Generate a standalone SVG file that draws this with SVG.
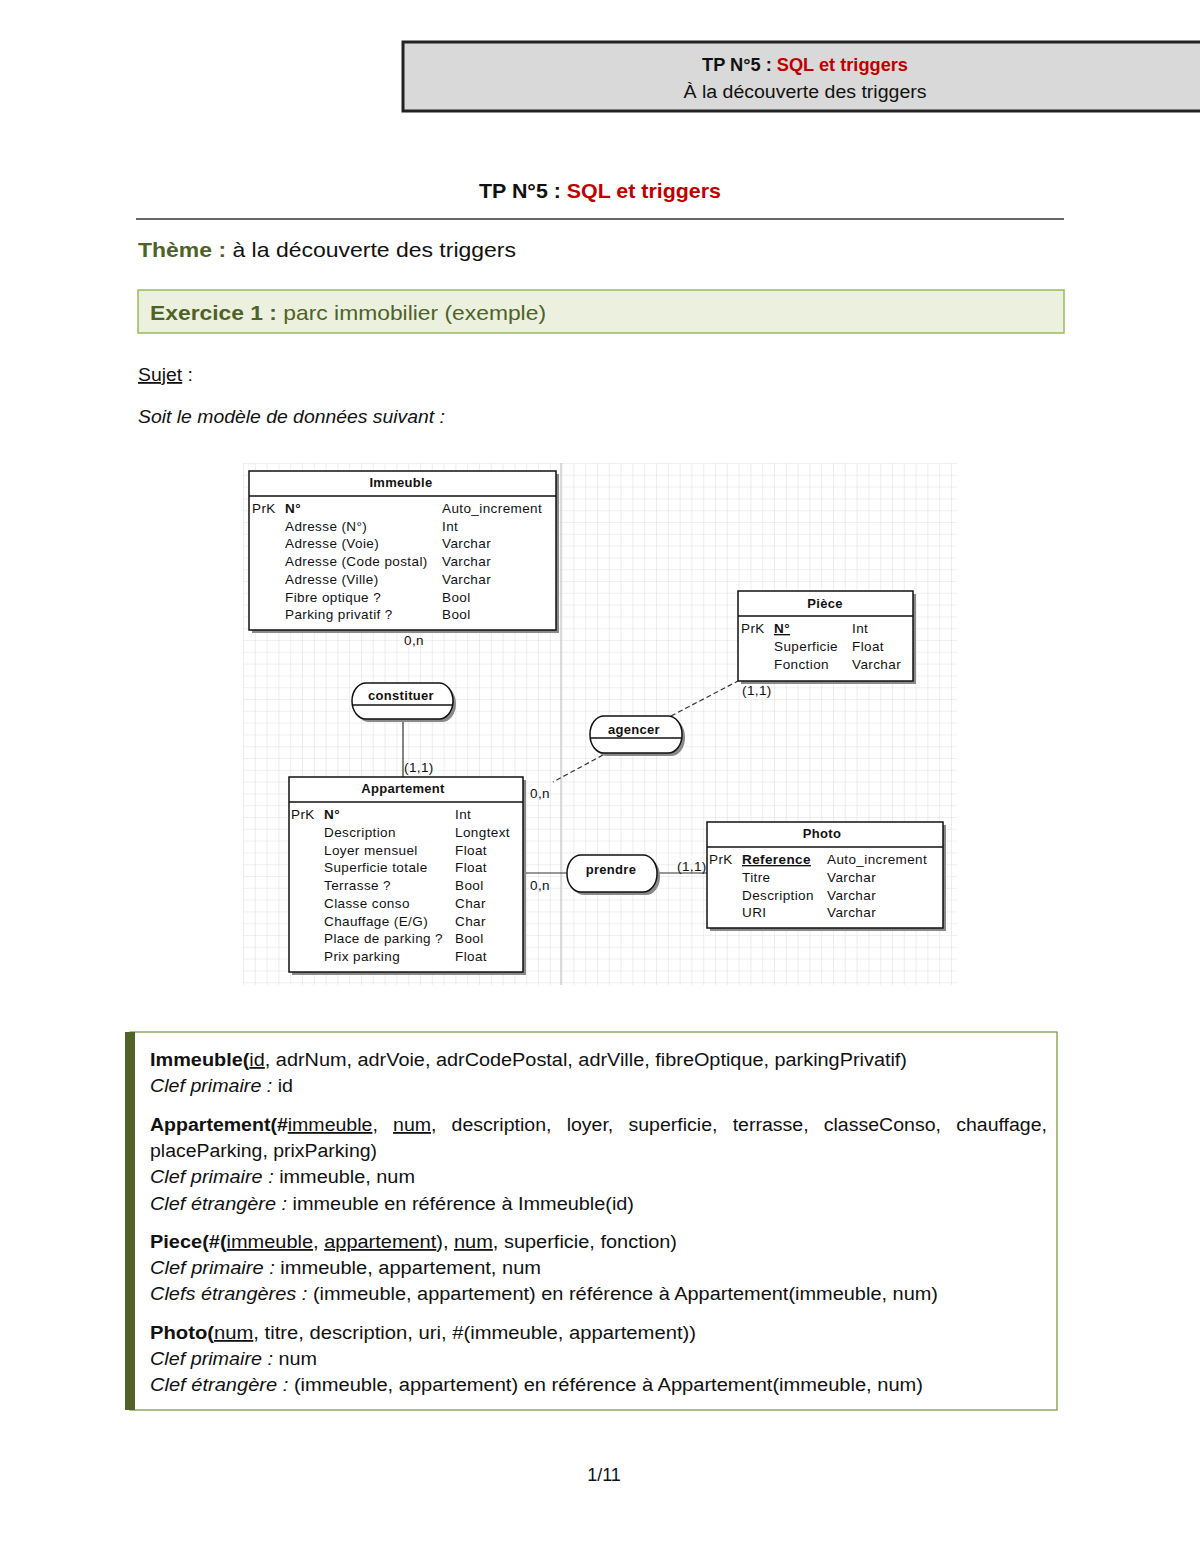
<svg xmlns="http://www.w3.org/2000/svg" width="1200" height="1553" viewBox="0 0 1200 1553">
<style>
.doc{font-family:"Liberation Sans",Arial,sans-serif;fill:#111}
.b{font-weight:bold}
.i{font-style:italic}
.u{text-decoration:underline}
.red{fill:#c00000}
.grn{fill:#4f6228}
.dg{font-family:"Liberation Sans",Arial,sans-serif;font-size:13.5px;letter-spacing:0.4px;fill:#111}
.dt{font-family:"Liberation Sans",Arial,sans-serif;font-size:13px;letter-spacing:0.3px;font-weight:bold;fill:#111}
.box{fill:#fff;stroke:#111;stroke-width:1.5}
.shadow{fill:#8a8a8a}
.sep{stroke:#111;stroke-width:1.5}
.conn{stroke:#333;stroke-width:1.2;fill:none}
.dash{stroke-dasharray:5,3}
</style>
<defs>
<pattern id="grid" x="243" y="463" width="11.8" height="11.8" patternUnits="userSpaceOnUse">
<path d="M0 0H11.8M0 0V11.8" stroke="#e2e2e2" stroke-width="1.2" fill="none"/>
</pattern>
</defs>
<rect width="1200" height="1553" fill="#fff"/>

<g id="header">
<rect x="403" y="42" width="802" height="69" fill="#d9d9d9" stroke="#222" stroke-width="3"/>
<text class="doc b" x="805" y="71" font-size="18" text-anchor="middle" textLength="206" lengthAdjust="spacingAndGlyphs">TP N°5 : <tspan class="red">SQL et triggers</tspan></text>
<text class="doc" x="805" y="98" font-size="18" text-anchor="middle" textLength="243" lengthAdjust="spacingAndGlyphs">À la découverte des triggers</text>
</g>

<g id="title">
<text class="doc b" x="600" y="198" font-size="21" text-anchor="middle" textLength="242" lengthAdjust="spacingAndGlyphs">TP N°5 : <tspan class="red">SQL et triggers</tspan></text>
<line x1="136" y1="219" x2="1064" y2="219" stroke="#333" stroke-width="1.5"/>
<text class="doc" x="138" y="257" font-size="21" textLength="378" lengthAdjust="spacingAndGlyphs"><tspan class="b grn">Thème :</tspan> à la découverte des triggers</text>
</g>

<g id="exercice">
<rect x="138" y="290" width="926" height="43" fill="#ebf1de" stroke="#9bbb59" stroke-width="1.5"/>
<text class="doc grn" x="150" y="320" font-size="21" textLength="396" lengthAdjust="spacingAndGlyphs"><tspan class="b">Exercice 1 :</tspan> parc immobilier (exemple)</text>
</g>

<g id="sujet">
<text class="doc" x="138" y="381" font-size="18" textLength="55" lengthAdjust="spacingAndGlyphs"><tspan class="u">Sujet</tspan> :</text>
<text class="doc i" x="138" y="423" font-size="18" textLength="307" lengthAdjust="spacingAndGlyphs">Soit le modèle de données suivant :</text>
</g>

<rect x="243" y="463" width="714" height="522" fill="url(#grid)"/>
<line x1="561" y1="463" x2="561" y2="985" stroke="#c4c4c4" stroke-width="1.2"/>

<g id="connectors">
<line class="conn" x1="403" y1="720" x2="403" y2="777"/>
<line class="conn dash" x1="671" y1="716" x2="738" y2="681"/>
<line class="conn dash" x1="603" y1="755" x2="553" y2="782"/>
<line class="conn" x1="523" y1="873" x2="567" y2="873"/>
<line class="conn" x1="657" y1="873" x2="707" y2="873"/>
<text class="dg" x="404" y="645">0,n</text>
<text class="dg" x="404" y="772">(1,1)</text>
<text class="dg" x="530" y="798">0,n</text>
<text class="dg" x="742" y="695">(1,1)</text>
<text class="dg" x="530" y="890">0,n</text>
<text class="dg" x="677" y="871">(1,1)</text>
</g>

<g id="immeuble">
<rect class="shadow" x="252" y="474" width="307" height="159"/>
<rect class="box" x="249" y="471" width="307" height="159"/>
<line class="sep" x1="249" y1="496" x2="556" y2="496"/>
<text class="dt" x="401" y="487" text-anchor="middle">Immeuble</text>
<text class="dg" x="252" y="513">PrK</text>
<text class="dg b" x="285" y="513">N°</text>
<text class="dg" x="285" y="531">Adresse (N°)</text>
<text class="dg" x="285" y="548">Adresse (Voie)</text>
<text class="dg" x="285" y="566">Adresse (Code postal)</text>
<text class="dg" x="285" y="584">Adresse (Ville)</text>
<text class="dg" x="285" y="602">Fibre optique ?</text>
<text class="dg" x="285" y="619">Parking privatif ?</text>
<text class="dg" x="442" y="513">Auto_increment</text>
<text class="dg" x="442" y="531">Int</text>
<text class="dg" x="442" y="548">Varchar</text>
<text class="dg" x="442" y="566">Varchar</text>
<text class="dg" x="442" y="584">Varchar</text>
<text class="dg" x="442" y="602">Bool</text>
<text class="dg" x="442" y="619">Bool</text>
</g>

<g id="constituer">
<rect class="shadow" x="355" y="686" width="101" height="36" rx="14" ry="18"/>
<rect class="box" x="352" y="683" width="101" height="36" rx="14" ry="18"/>
<line class="sep" x1="353" y1="705" x2="452" y2="705"/>
<text class="dt" x="401" y="700" text-anchor="middle">constituer</text>
</g>

<g id="agencer">
<rect class="shadow" x="593" y="719" width="92" height="37" rx="14" ry="18"/>
<rect class="box" x="590" y="716" width="92" height="37" rx="14" ry="18"/>
<line class="sep" x1="591" y1="738" x2="681" y2="738"/>
<text class="dt" x="634" y="734" text-anchor="middle">agencer</text>
</g>

<g id="prendre">
<rect class="shadow" x="570" y="858" width="90" height="37" rx="14" ry="18"/>
<rect class="box" x="567" y="855" width="90" height="37" rx="14" ry="18"/>
<text class="dt" x="611" y="874" text-anchor="middle">prendre</text>
</g>

<g id="piece">
<rect class="shadow" x="741" y="594" width="175" height="90"/>
<rect class="box" x="738" y="591" width="175" height="90"/>
<line class="sep" x1="738" y1="616" x2="913" y2="616"/>
<text class="dt" x="825" y="608" text-anchor="middle">Pièce</text>
<text class="dg" x="741" y="633">PrK</text>
<text class="dg b u" x="774" y="633">N°</text>
<text class="dg" x="774" y="651">Superficie</text>
<text class="dg" x="774" y="669">Fonction</text>
<text class="dg" x="852" y="633">Int</text>
<text class="dg" x="852" y="651">Float</text>
<text class="dg" x="852" y="669">Varchar</text>
</g>

<g id="appartement">
<rect class="shadow" x="292" y="780" width="234" height="195"/>
<rect class="box" x="289" y="777" width="234" height="195"/>
<line class="sep" x1="289" y1="802" x2="523" y2="802"/>
<text class="dt" x="403" y="793" text-anchor="middle">Appartement</text>
<text class="dg" x="291" y="819">PrK</text>
<text class="dg b" x="324" y="819">N°</text>
<text class="dg" x="324" y="837">Description</text>
<text class="dg" x="324" y="855">Loyer mensuel</text>
<text class="dg" x="324" y="872">Superficie totale</text>
<text class="dg" x="324" y="890">Terrasse ?</text>
<text class="dg" x="324" y="908">Classe conso</text>
<text class="dg" x="324" y="926">Chauffage (E/G)</text>
<text class="dg" x="324" y="943">Place de parking ?</text>
<text class="dg" x="324" y="961">Prix parking</text>
<text class="dg" x="455" y="819">Int</text>
<text class="dg" x="455" y="837">Longtext</text>
<text class="dg" x="455" y="855">Float</text>
<text class="dg" x="455" y="872">Float</text>
<text class="dg" x="455" y="890">Bool</text>
<text class="dg" x="455" y="908">Char</text>
<text class="dg" x="455" y="926">Char</text>
<text class="dg" x="455" y="943">Bool</text>
<text class="dg" x="455" y="961">Float</text>
</g>

<g id="photo">
<rect class="shadow" x="710" y="825" width="236" height="106"/>
<rect class="box" x="707" y="822" width="236" height="106"/>
<line class="sep" x1="707" y1="847" x2="943" y2="847"/>
<text class="dt" x="822" y="838" text-anchor="middle">Photo</text>
<text class="dg" x="709" y="864">PrK</text>
<text class="dg b u" x="742" y="864">Reference</text>
<text class="dg" x="742" y="882">Titre</text>
<text class="dg" x="742" y="900">Description</text>
<text class="dg" x="742" y="917">URI</text>
<text class="dg" x="827" y="864">Auto_increment</text>
<text class="dg" x="827" y="882">Varchar</text>
<text class="dg" x="827" y="900">Varchar</text>
<text class="dg" x="827" y="917">Varchar</text>
</g>

<g id="schema">
<rect x="130" y="1032" width="927" height="378" fill="#fff" stroke="#76923c" stroke-width="1.2"/>
<rect x="125" y="1032" width="10" height="378" fill="#4f6228"/>
<text class="doc" x="150" y="1066" font-size="18" textLength="757" lengthAdjust="spacingAndGlyphs"><tspan class="b">Immeuble(</tspan><tspan class="u">id</tspan>, adrNum, adrVoie, adrCodePostal, adrVille, fibreOptique, parkingPrivatif)</text>
<text class="doc" x="150" y="1092" font-size="18" textLength="143" lengthAdjust="spacingAndGlyphs"><tspan class="i">Clef primaire :</tspan> id</text>
<text class="doc" x="150" y="1131" font-size="18" word-spacing="9" textLength="897" lengthAdjust="spacingAndGlyphs"><tspan class="b">Appartement(#</tspan><tspan class="u">immeuble</tspan>, <tspan class="u">num</tspan>, description, loyer, superficie, terrasse, classeConso, chauffage,</text>
<text class="doc" x="150" y="1157" font-size="18" textLength="227" lengthAdjust="spacingAndGlyphs">placeParking, prixParking)</text>
<text class="doc" x="150" y="1183" font-size="18" textLength="265" lengthAdjust="spacingAndGlyphs"><tspan class="i">Clef primaire :</tspan> immeuble, num</text>
<text class="doc" x="150" y="1210" font-size="18" textLength="484" lengthAdjust="spacingAndGlyphs"><tspan class="i">Clef étrangère :</tspan> immeuble en référence à Immeuble(id)</text>
<text class="doc" x="150" y="1248" font-size="18" textLength="527" lengthAdjust="spacingAndGlyphs"><tspan class="b">Piece(#(</tspan><tspan class="u">immeuble</tspan>, <tspan class="u">appartement</tspan>), <tspan class="u">num</tspan>, superficie, fonction)</text>
<text class="doc" x="150" y="1274" font-size="18" textLength="391" lengthAdjust="spacingAndGlyphs"><tspan class="i">Clef primaire :</tspan> immeuble, appartement, num</text>
<text class="doc" x="150" y="1300" font-size="18" textLength="788" lengthAdjust="spacingAndGlyphs"><tspan class="i">Clefs étrangères :</tspan> (immeuble, appartement) en référence à Appartement(immeuble, num)</text>
<text class="doc" x="150" y="1339" font-size="18" textLength="546" lengthAdjust="spacingAndGlyphs"><tspan class="b">Photo(</tspan><tspan class="u">num</tspan>, titre, description, uri, #(immeuble, appartement))</text>
<text class="doc" x="150" y="1365" font-size="18" textLength="167" lengthAdjust="spacingAndGlyphs"><tspan class="i">Clef primaire :</tspan> num</text>
<text class="doc" x="150" y="1391" font-size="18" textLength="773" lengthAdjust="spacingAndGlyphs"><tspan class="i">Clef étrangère :</tspan> (immeuble, appartement) en référence à Appartement(immeuble, num)</text>
</g>

<text class="doc" x="604" y="1481" font-size="18" text-anchor="middle">1/11</text>
</svg>
